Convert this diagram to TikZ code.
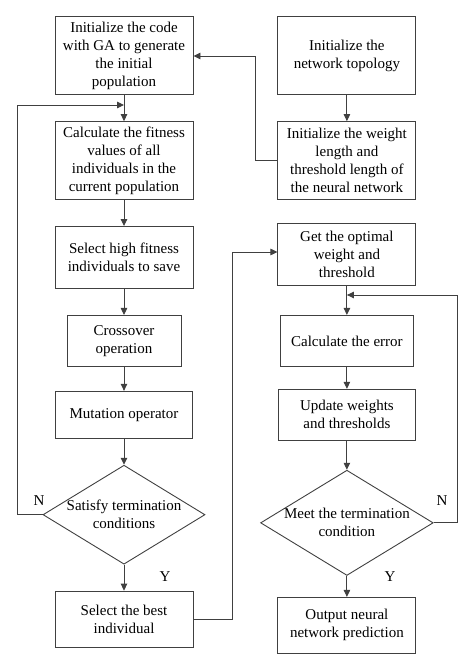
\documentclass[tikz,border=0pt]{standalone}
\usepackage{fontspec}
\setmainfont{Liberation Serif}
\usetikzlibrary{positioning,shapes.geometric,arrows.meta}

\tikzset{
    box/.style={draw=black!75, rectangle, align=center, inner sep=0pt, minimum width=138pt},
    cond/.style={draw=black!75, diamond, align=center, inner sep=0pt, aspect=1.64, minimum width=162pt, minimum height=99pt},
    flow/.style={draw=black!75, line width=0.9pt, -{Triangle[length=7pt,width=6.5pt]}},
    line/.style={draw=black!75, line width=0.9pt},
    tag/.style={inner sep=0pt}
}

\begin{document}
\begin{tikzpicture}[x=1pt, y=-1pt, font=\fontsize{15}{18}\selectfont, line width=0.9pt]
    \useasboundingbox (0,0) rectangle (474,658);
    \node(init)[box, minimum height=78pt] at (124,55.7) {Initialize the code\\with GA to generate\\the initial\\population};
    \node(calcfit)[box, minimum height=78pt, below=26pt of init] {Calculate the fitness\\values of all\\individuals in the\\current population};
    \node(select)[box, minimum height=62pt, below=26pt of calcfit] {Select high fitness\\individuals to save};
    \node(cross)[box, minimum width=114pt, minimum height=51pt, below=26pt of select] {Crossover\\operation};
    \node(mutate)[box, minimum width=137pt, minimum height=47pt, below=24pt of cross] {Mutation operator};
    \node(satisfy)[cond, below=26pt of mutate] {Satisfy termination\\conditions};
    \node(best)[box, minimum height=56pt, below=26pt of satisfy] {Select the best\\individual};
    \node(topo)[box, minimum height=78pt, right=84pt of init] {Initialize the\\network topology};
    \node(initw)[box, minimum height=78pt, below=26pt of topo] {Initialize the weight\\length and\\threshold length of\\the neural network};
    \node(optimal)[box, minimum height=62pt, below=23pt of initw] {Get the optimal\\weight and\\threshold};
    \node(error)[box, minimum width=133pt, minimum height=51pt, below=29pt of optimal] {Calculate the error};
    \node(update)[box, minimum width=137pt, minimum height=51pt, below=22pt of error] {Update weights\\and thresholds};
    \node(meet)[cond, minimum width=163pt, below=29pt of update] {Meet the termination\\condition};
    \node(output)[box, minimum height=56pt, below=21pt of meet] {Output neural\\network prediction};
    \coordinate(loopl) at (17,105);
    \coordinate(loopr) at (457,295);
    \coordinate(jump) at (232,252);
    \coordinate(feed) at (255,56);
    \draw[flow] (init) -- (calcfit);
    \draw[flow] (calcfit) -- (select);
    \draw[flow] (select) -- (cross);
    \draw[flow] (cross) -- (mutate);
    \draw[flow] (mutate) -- (satisfy);
    \draw[flow] (satisfy) -- (best);
    \draw[flow] (topo) -- (initw);
    \draw[flow] (initw.west) -| (feed) -- (init.east |- feed);
    \draw[flow] (optimal) -- (error);
    \draw[flow] (error) -- (update);
    \draw[flow] (update) -- (meet);
    \draw[flow] (meet) -- (output);
    \draw[flow] (satisfy.west) -| (loopl) -- (init.south |- loopl);
    \draw[flow] (best.east) -| (jump) -- (optimal.west |- jump);
    \draw[flow] (meet.east) -| (loopr) -- (optimal.south |- loopr);
    \node(n1)[tag] at (39,501) {N};
    \node(y1)[tag] at (165,577) {Y};
    \node(n2)[tag] at (442,501) {N};
    \node(y2)[tag] at (390,577) {Y};
\end{tikzpicture}
\end{document}
